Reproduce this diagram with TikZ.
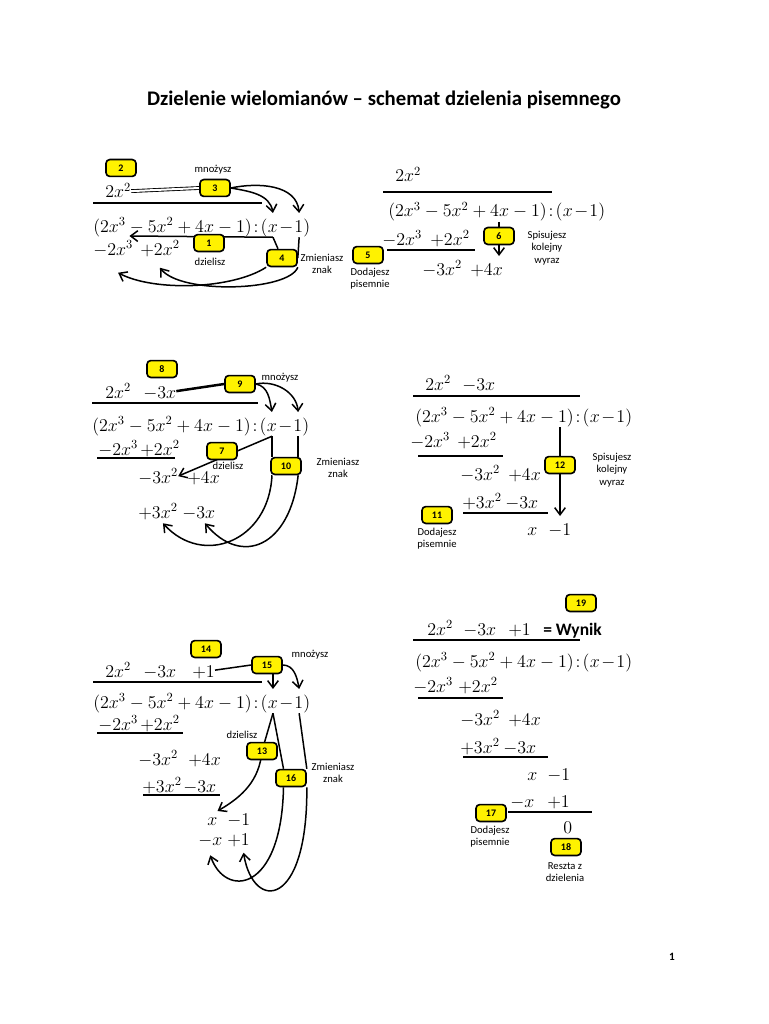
\documentclass[tikz,border=0pt]{standalone}
\usepackage{fontspec}
\newfontfamily\opisfont{Carlito}
\usetikzlibrary{arrows.meta, backgrounds}

% dzielna (x-1) rozbita na trzy wezly, zeby strzalki trafialy w x i w 1
\newcommand{\dzielna}[1]{%
  \node[expr] (#1) at (0,0) {$\thickmuskip=2mu \bigl(2x^3-5x^2+4x-1\bigr):($};
  \node[expr] (#1x) at (#1.base east) {$x$};
  \node[expr] (#1j) at (#1x.base east) {$\medmuskip=1mu {}-1)$};
  \coordinate (#1jg) at ([xshift=-9pt]#1j.north east);
  \coordinate (#1jd) at ([xshift=-9pt]#1j.south east);%
}

\begin{document}
\begin{tikzpicture}[
  x=0.8pt, y=0.8pt,
  expr/.style={anchor=base west, inner sep=0pt, text height=15pt, text depth=4pt,
    font=\fontsize{14}{17}\selectfont},
  numbox/.style={draw, line width=1.3pt, fill=yellow, rounded corners=3pt,
    minimum width=24pt, minimum height=13.5pt, inner sep=0pt,
    font=\opisfont\bfseries\fontsize{8}{9}\selectfont},
  note/.style={align=center, inner sep=0pt, font=\opisfont\fontsize{8.5}{9.8}\selectfont},
  bar/.style={line width=1.1pt},
  arrow/.style={-{Straight Barb[length=2mm, width=3mm]}, line width=1.2pt},
  link/.style={line width=1.2pt}
]
\begin{scope}[on background layer]
  \fill[white] (0,0) rectangle (768,-1024);
\end{scope}
\useasboundingbox (0,0) rectangle (768,-1024);

\node[font=\opisfont\bfseries\fontsize{16.6}{20}\selectfont] (tytul) at (384,-100)
  {Dzielenie wielomianów – schemat dzielenia pisemnego};
\node[font=\opisfont\bfseries\fontsize{9}{11}\selectfont] (strona) at (672,-957) {1};

% --- Krok 1-4 ---
\begin{scope}[shift={(93,-232)}]
  \node[numbox] (b2) at (28,64) {2};
  \node[expr] (p1q1) at (12,34) {$2x^2$};
  \draw[bar] (0,29) -- (169,29);
  \dzielna{d1}
  \node[expr] (p1r1a) at (0,-23) {$-2x^3$};
  \node[expr] (p1r1b) at (47,-23) {$+2x^2$};
  \node[numbox] (b3) at (122,44) {3};
  \node[note] (n3) at (120,62) {mnożysz};
  \node[numbox] (b1) at (116,-11) {1};
  \node[note] (n1) at (117,-30) {dzielisz};
  \node[numbox] (b4) at (189,-26) {4};
  \node[note] (n4) at (229,-32) {Zmieniasz\\znak};
  \begin{scope}[on background layer]
    \draw[double, double distance=1.6pt, line width=0.7pt] (p1q1.east) -- (b3.west);
    \draw[arrow] (b3.east) to[out=-10,in=100] (d1x.north);
    \draw[arrow] (b3.east) to[out=12,in=95] (d1jg);
    \draw[arrow] (d1x.south) -- ([xshift=-3pt]p1r1a.north east);
    \draw[link] (d1x.south) -- (b4);
    \draw[link] (d1jd) -- (b4.east);
    \draw[arrow] (b4.south west) .. controls +(-34,-22) and +(36,-19) .. ([shift={(4pt,-10pt)}]p1r1a.south);
    \draw[arrow] (b4.south east) .. controls +(-9,-24) and +(21,-27) .. ([yshift=-6pt]p1r1b.south);
  \end{scope}
\end{scope}

% --- Krok 5-6 ---
\begin{scope}[shift={(388,-217)}]
  \node[expr] (p2q1) at (7,35) {$2x^2$};
  \draw[bar] (-5,25) -- (164,25);
  \dzielna{d2}
  \node[expr] (p2r1a) at (-6,-28) {$-2x^3$};
  \node[expr] (p2r1b) at (42,-28) {$+2x^2$};
  \draw[bar] (-1,-33) -- (87,-33);
  \node[expr] (p2r2a) at (34,-58) {$-3x^2$};
  \node[expr] (p2r2b) at (82,-58) {$+4x$};
  \coordinate (p2s) at (111,-5);
  \node[numbox] (b6) at (111,-19) {6};
  \node[numbox] (b5) at (-20,-38) {5};
  \node[note] (n5) at (-18,-62) {Dodajesz\\pisemnie};
  \node[note] (n6) at (159,-31) {Spisujesz\\kolejny\\wyraz};
  \begin{scope}[on background layer]
    \draw[arrow] (p2s) -- (p2s |- p2r2b.north);
  \end{scope}
\end{scope}

% --- Krok 7-10 ---
\begin{scope}[shift={(92,-431)}]
  \node[numbox] (b8) at (70,62) {8};
  \node[expr] (p3q1) at (13,33) {$2x^2$};
  \node[expr] (p3q2) at (51,33) {$-3x$};
  \draw[bar] (0,28) -- (166,28);
  \dzielna{d3}
  \node[expr] (p3r1a) at (6,-24) {$-2x^3$};
  \node[expr] (p3r1b) at (48,-24) {$+2x^2$};
  \draw[bar] (5,-27) -- (83,-27);
  \node[expr] (p3r2a) at (46,-52) {$-3x^2$};
  \node[expr] (p3r2b) at (95,-52) {$+4x$};
  \node[expr] (p3r3a) at (46,-87) {$+3x^2$};
  \node[expr] (p3r3b) at (90,-87) {$-3x$};
  \node[numbox] (b9) at (148,47) {9};
  \node[note] (n9) at (188,53) {mnożysz};
  \node[numbox] (b7) at (130,-20) {7};
  \node[note] (n7) at (136,-35) {dzielisz};
  \node[numbox] (b10) at (194,-35) {10};
  \node[note] (n10) at (246,-37) {Zmieniasz\\znak};
  \begin{scope}[on background layer]
    \draw[line width=2pt] (p3q2.east) -- (b9.west);
    \draw[arrow] (b9.east) to[out=-10,in=100] (d3x.north);
    \draw[arrow] (b9.east) to[out=12,in=95] (d3jg);
    \draw[arrow] (d3x.south) -- (p3r2a.east);
    \draw[link] (d3x.south) -- (d3x.south |- b10.north);
    \draw[link] (d3jd) -- (d3jd |- b10.north);
    \draw[arrow] (d3x.south |- b10.south) .. controls +(-3,-66) and +(40,-44) .. ([xshift=4pt]p3r3a.south);
    \draw[arrow] (d3jd |- b10.south) .. controls +(-8,-71) and +(37,-44) .. ([xshift=5pt]p3r3b.south);
  \end{scope}
\end{scope}

% --- Krok 11-12 ---
\begin{scope}[shift={(415,-422)}]
  \node[expr] (p4q1) at (10,32) {$2x^2$};
  \node[expr] (p4q2) at (47,32) {$-3x$};
  \draw[bar] (-2,26) -- (165,26);
  \dzielna{d4}
  \node[expr] (p4r1a) at (-5,-25) {$-2x^3$};
  \node[expr] (p4r1b) at (42,-25) {$+2x^2$};
  \draw[bar] (3,-34) -- (88,-34);
  \node[expr] (p4r2a) at (45,-58) {$-3x^2$};
  \node[expr] (p4r2b) at (93,-58) {$+4x$};
  \node[expr] (p4r3a) at (47,-86) {$+3x^2$};
  \node[expr] (p4r3b) at (90,-86) {$-3x$};
  \draw[bar] (48,-91) -- (133,-91);
  \node[expr] (p4r4a) at (112,-113) {$x$};
  \node[expr] (p4r4b) at (133,-113) {$-1$};
  \coordinate (p4s) at (145,-5);
  \node[numbox] (b12) at (145,-43) {12};
  \node[numbox] (b11) at (22,-93) {11};
  \node[note] (n11) at (22,-117) {Dodajesz\\pisemnie};
  \node[note] (n12) at (197,-48) {Spisujesz\\kolejny\\wyraz};
  \begin{scope}[on background layer]
    \draw[arrow] (p4s) -- (p4s |- p4r4b.north);
  \end{scope}
\end{scope}

% --- Krok 13-16 ---
\begin{scope}[shift={(93,-708)}]
  \node[numbox] (b14) at (113,59) {14};
  \node[expr] (p5q1) at (12,31) {$2x^2$};
  \node[expr] (p5q2) at (50,31) {$-3x$};
  \node[expr] (p5q3) at (99,31) {$+1$};
  \draw[bar] (0,26) -- (169,26);
  \dzielna{d5}
  \node[expr] (p5r1a) at (5,-22) {$-2x^3$};
  \node[expr] (p5r1b) at (47,-22) {$+2x^2$};
  \draw[bar] (4,-25) -- (90,-25);
  \node[expr] (p5r2a) at (45,-57) {$-3x^2$};
  \node[expr] (p5r2b) at (95,-57) {$+4x$};
  \node[expr] (p5r3a) at (49,-84) {$+3x^2$};
  \node[expr] (p5r3b) at (90,-84) {$-3x$};
  \draw[bar] (50,-87) -- (127,-87);
  \node[expr] (p5r4a) at (114,-117) {$x$};
  \node[expr] (p5r4b) at (134,-117) {$-1$};
  \node[expr] (p5r5a) at (105,-137) {$-x$};
  \node[expr] (p5r5b) at (134,-137) {$+1$};
  \node[numbox] (b15) at (174,43) {15};
  \node[note] (n15) at (217,53) {mnożysz};
  \node[numbox] (b13) at (169,-43) {13};
  \node[note] (n13) at (149,-27) {dzielisz};
  \node[numbox] (b16) at (198,-70) {16};
  \node[note] (n16) at (240,-65) {Zmieniasz\\znak};
  \begin{scope}[on background layer]
    \draw[link] (p5q3.east) -- (b15.west);
    \draw[arrow] (b15.south -| d5x.north) -- (d5x.north);
    \draw[arrow] (b15.east) to[out=0,in=100] (d5jg);
    \draw[arrow] (d5x.south) -- (b13.center) to[out=-95,in=30] ([yshift=-4pt]p5r4a.north east);
    \draw[link] (d5x.south) -- ([xshift=-6pt]b16.north);
    \draw[link] (d5jd) -- (b16.north east);
    \draw[arrow] ([xshift=-6pt]b16.south) .. controls +(-2,-106) and +(15,-43) .. ([yshift=-4pt]p5r5a.south);
    \draw[arrow] (b16.south east) .. controls +(1,-121) and +(10,-60) .. ([shift={(4pt,-2pt)}]p5r5b.south);
  \end{scope}
\end{scope}

% --- Krok 17-19 ---
\begin{scope}[shift={(415,-667)}]
  \node[numbox] (b19) at (166,64) {19};
  \node[expr] (p6q1) at (12,32) {$2x^2$};
  \node[expr] (p6q2) at (48,32) {$-3x$};
  \node[expr] (p6q3) at (93,32) {$+1$};
  \node[anchor=base west, inner sep=0pt, font=\opisfont\bfseries\fontsize{14}{17}\selectfont] (wynik) at (128,32) {= Wynik};
  \draw[bar] (-2,27) -- (165,27);
  \dzielna{d6}
  \node[expr] (p6r1a) at (-2,-25) {$-2x^3$};
  \node[expr] (p6r1b) at (43,-25) {$+2x^2$};
  \draw[bar] (3,-31) -- (88,-31);
  \node[expr] (p6r2a) at (45,-58) {$-3x^2$};
  \node[expr] (p6r2b) at (93,-58) {$+4x$};
  \node[expr] (p6r3a) at (45,-86) {$+3x^2$};
  \node[expr] (p6r3b) at (88,-86) {$-3x$};
  \draw[bar] (48,-90) -- (133,-90);
  \node[expr] (p6r4a) at (112,-113) {$x$};
  \node[expr] (p6r4b) at (132,-113) {$-1$};
  \node[expr] (p6r5a) at (95,-140) {$-x$};
  \node[expr] (p6r5b) at (132,-140) {$+1$};
  \draw[bar] (93,-145) -- (177,-145);
  \node[expr] (p6r6) at (148,-166) {$0$};
  \node[numbox] (b17) at (76,-146) {17};
  \node[note] (n17) at (75,-170) {Dodajesz\\pisemnie};
  \node[numbox] (b18) at (151,-180) {18};
  \node[note] (n18) at (150,-205) {Reszta z\\dzielenia};
\end{scope}

\end{tikzpicture}
\end{document}
